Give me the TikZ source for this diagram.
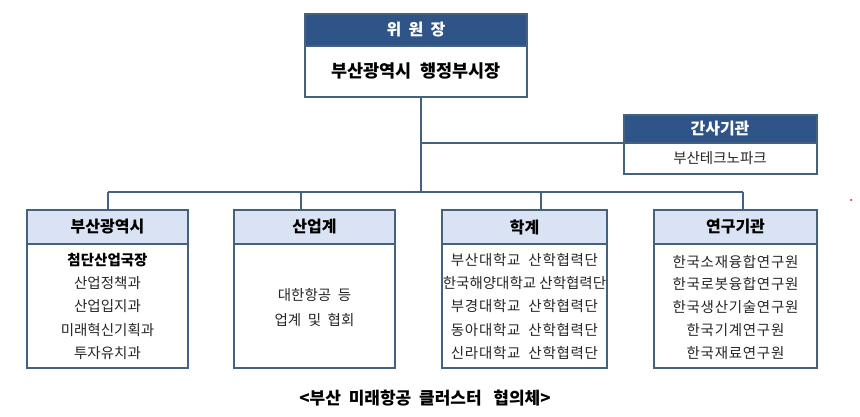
\documentclass[tikz,border=0pt]{standalone}
\usepackage{fontspec}
\setmainfont{Noto Sans CJK KR}
\newfontfamily\spaced[LetterSpace=5]{Noto Sans CJK KR}
\begin{document}
\begin{tikzpicture}[x=1pt,y=-1pt,
 bx/.style={draw=bord,line width=1.1pt},
 ln/.style={draw=bord,line width=1.1pt},
 t/.style={font=\fontsize{14.5}{16}\selectfont,inner sep=0pt,text=black!85},
 hb/.style={font=\bfseries\fontsize{16}{18}\selectfont,inner sep=0pt}]
\definecolor{bord}{HTML}{44627F}
\definecolor{dk}{HTML}{2F5488}
\definecolor{lt}{HTML}{DAE3F3}
\useasboundingbox (0,0) rectangle (860,417);
% top
\fill[dk] (305,14) rectangle (527,46);
\draw[bx] (305,14) rectangle (527,97);
\draw[ln] (305,46)--(527,46);
\node[hb,text=white] (h0) at (416,30) {위 \ 원 \ 장};
\node[hb,font=\bfseries\fontsize{17.5}{19}\selectfont] (c0) at (416,71) {부산광역시 \ 행정부시장};
\coordinate (top) at (421,97);
% secretary
\fill[dk] (624,115) rectangle (817,143);
\draw[bx] (624,115) rectangle (817,174);
\draw[ln] (624,143)--(817,143);
\node[hb,text=white] (h5) at (720,129) {간사기관};
\node[t] (c5) at (720,158) {부산테크노파크};
\coordinate (s5) at (624,143);
\coordinate (j5) at (421,143);
\coordinate (bus) at (421,192);
\draw[ln] (top)--(bus);
\draw[ln] (j5)--(s5);
\draw[ln] (108,192)--(743,192);
% columns
\foreach \a/\b/\m/\n in {27/188/108/1,234/395/301/2,442/607/541/3,654/817/743/4}{
 \fill[lt] (\a,210) rectangle (\b,244);
 \draw[bx] (\a,210) rectangle (\b,368);
 \draw[ln] (\a,244)--(\b,244);
 \draw[ln] (\m,192)--(\m,210);
}
\node[hb] (h1) at (107.5,227) {부산광역시};
\node[hb] (h2) at (314.5,227) {산업계};
\node[hb] (h3) at (524.5,227) {학계};
\node[hb] (h4) at (735.5,227) {연구기관};
\node[hb,font=\bfseries\fontsize{14.5}{16}\selectfont] (a1) at (107.5,260) {첨단산업국장};
\node[t] (a2) at (107.5,283) {산업정책과};
\node[t] (a3) at (107.5,306) {산업입지과};
\node[t] (a4) at (107.5,330) {미래혁신기획과};
\node[t] (a5) at (107.5,353) {투자유치과};
\node[t] (b1) at (314.5,295) {대한항공 \ 등};
\node[t] (b2) at (314.5,320) {업계 \ 및 \ 협회};
\node[t] (d1) at (524.5,260) {\spaced 부산대학교 \ 산학협력단};
\node[t] (d2) at (524.5,283) {한국해양대학교 산학협력단};
\node[t] (d3) at (524.5,306) {\spaced 부경대학교 \ 산학협력단};
\node[t] (d4) at (524.5,330) {\spaced 동아대학교 \ 산학협력단};
\node[t] (d5) at (524.5,353) {\spaced 신라대학교 \ 산학협력단};
\node[t] (e1) at (735.5,262) {\spaced 한국소재융합연구원};
\node[t] (e2) at (735.5,284) {\spaced 한국로봇융합연구원};
\node[t] (e3) at (735.5,307) {\spaced 한국생산기술연구원};
\node[t] (e4) at (735.5,330) {\spaced 한국기계연구원};
\node[t] (e5) at (735.5,353) {\spaced 한국재료연구원};
\node[hb,font=\bfseries\fontsize{17}{19}\selectfont] (cap) at (425,398) {<부산 \ 미래항공 \ 클러스터 \ \ 협의체>};
\fill[red!80!black] (851,200) circle (1pt);
\end{tikzpicture}
\end{document}
